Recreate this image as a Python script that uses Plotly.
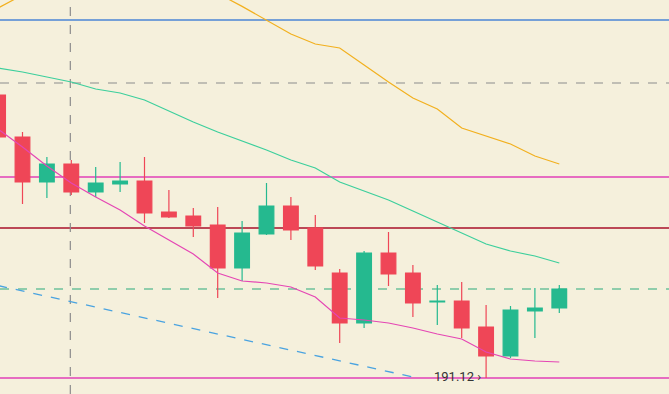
import plotly.graph_objects as go

idx = list(range(24))
open_ = [205.27, 203.17, 200.92, 201.82, 200.42, 200.82, 200.97, 199.42, 199.22, 198.77, 196.62, 198.32,
         199.72, 198.62, 196.37, 193.87, 197.37, 196.37, 194.92, 194.97, 193.67, 192.22, 194.47, 194.62]
high = [205.42, 203.42, 202.17, 202.02, 201.67, 201.92, 202.17, 200.52, 199.62, 199.67, 198.97, 200.87,
        200.17, 199.27, 196.57, 197.47, 198.42, 196.77, 195.77, 195.92, 194.77, 194.72, 195.62, 195.77]
low = [203.07, 199.82, 200.12, 200.27, 200.17, 200.42, 198.87, 199.12, 198.17, 195.12, 195.97, 198.27,
       198.02, 196.52, 192.87, 193.62, 195.72, 194.17, 193.77, 193.12, 191.12, 192.12, 193.12, 194.37]
close = [203.17, 200.92, 201.82, 200.42, 200.87, 200.97, 199.37, 199.17, 198.72, 196.62, 198.37, 199.72,
         198.52, 196.72, 193.87, 197.37, 196.32, 194.87, 194.97, 193.62, 192.22, 194.52, 194.62, 195.57]

ma_orange = [209.62, 210.27, 210.62, 210.82, 210.92, 210.97, 210.92, 210.82, 210.62, 210.35, 209.70, 209.02,
             208.32, 207.82, 207.62, 206.77, 205.92, 205.12, 204.57, 203.62, 203.22, 202.82, 202.22, 201.82]
ma_teal = [206.62, 206.42, 206.17, 205.92, 205.57, 205.37, 205.02, 204.47, 203.92, 203.42, 202.97, 202.52,
           202.02, 201.62, 200.92, 200.47, 200.02, 199.47, 198.92, 198.37, 197.82, 197.47, 197.22, 196.87]
ma_pink = [203.57, 202.67, 201.72, 200.87, 200.17, 199.52, 198.72, 198.02, 197.32, 196.37, 195.97, 195.87,
           195.67, 195.17, 194.12, 194.02, 193.87, 193.62, 193.32, 193.07, 192.42, 192.07, 191.97, 191.92]

trend_x = [0, 17]
trend_y = [195.74, 191.17]

# horizontal price levels: (price, color, dash)
level_prices = [209.02, 205.87, 201.17, 198.62, 195.57, 191.12]
level_colors = ["#4a86d6", "#8c8c8c", "#e040b8", "#a8102a", "#2aaa7a", "#e040b8"]
level_dashes = ["solid", "dash", "solid", "solid", "dash", "solid"]

crosshair_x = 2.96
min_label = "191.12 ›"
min_idx = 20

RED = "#ef4657"
GREEN = "#25b98f"

fig = go.Figure()

for p, c, d in zip(level_prices, level_colors, level_dashes):
    fig.add_shape(type="line", xref="paper", x0=0, x1=1, yref="y", y0=p, y1=p,
                  line=dict(color=c, width=1.3 if d == "solid" else 1.2, dash="dash" if d == "dash" else "solid"),
                  layer="below")

fig.add_shape(type="line", xref="x", x0=crosshair_x, x1=crosshair_x, yref="paper", y0=0, y1=1,
              line=dict(color="#8c8c8c", width=1.2, dash="dash"), layer="below")

fig.add_trace(go.Scatter(x=trend_x, y=trend_y, mode="lines",
                         line=dict(color="#4aa3e0", width=1.3, dash="dash"), hoverinfo="skip"))

fig.add_trace(go.Scatter(x=idx, y=ma_orange, mode="lines", line=dict(color="#f2b01e", width=1.2), hoverinfo="skip"))
fig.add_trace(go.Scatter(x=idx, y=ma_teal, mode="lines", line=dict(color="#3ccf9c", width=1.2), hoverinfo="skip"))
fig.add_trace(go.Scatter(x=idx, y=ma_pink, mode="lines", line=dict(color="#e546b4", width=1.2), hoverinfo="skip"))

fig.add_trace(go.Candlestick(
    x=idx, open=open_, high=high, low=low, close=close,
    increasing=dict(line=dict(color=GREEN, width=1.2), fillcolor=GREEN),
    decreasing=dict(line=dict(color=RED, width=1.2), fillcolor=RED),
    whiskerwidth=0,
))

fig.add_annotation(x=min_idx, y=low[min_idx], text=min_label, showarrow=False,
                   xanchor="right", yanchor="middle", xshift=-3, yshift=2,
                   font=dict(family="Roboto, Arial, sans-serif", size=13, color="#333333"))

fig.update_layout(
    width=669, height=394,
    margin=dict(l=0, r=0, t=0, b=0),
    paper_bgcolor="#f5f0dc", plot_bgcolor="#f5f0dc",
    showlegend=False,
    boxgap=0.14,
    xaxis=dict(range=[0.078, 27.496], visible=False, rangeslider=dict(visible=False), fixedrange=True),
    yaxis=dict(range=[190.32, 210.02], visible=False, fixedrange=True),
)

fig.write_html("out.html")
